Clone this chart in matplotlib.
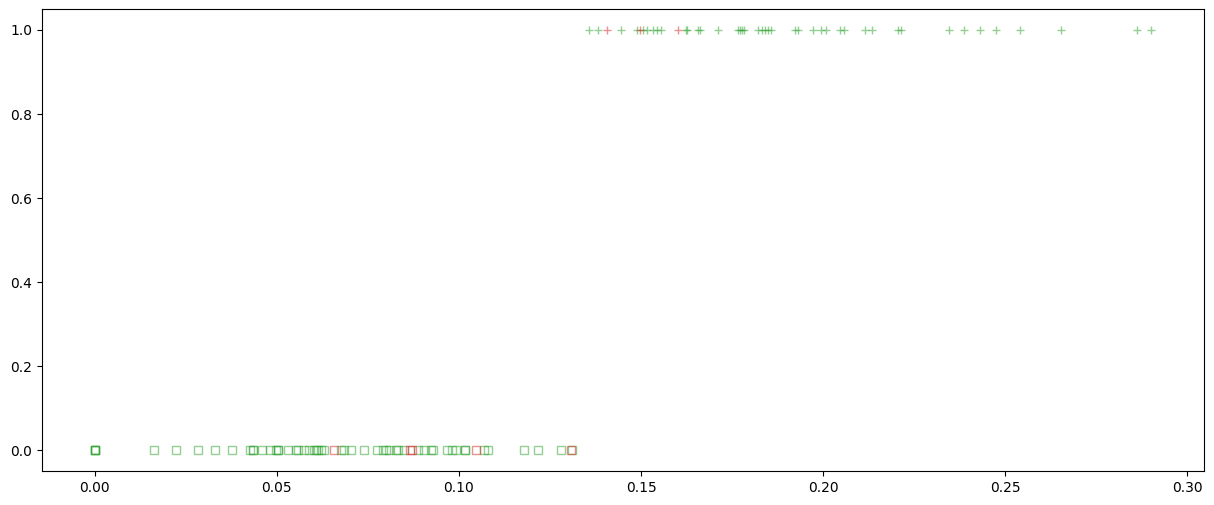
import numpy as np
import matplotlib
matplotlib.use("Agg")
import matplotlib.pyplot as plt

# --------------------------
# Data
# --------------------------
# class 1 (plus markers at y=1)
pos_green = [0.1357, 0.1382, 0.1445, 0.1489, 0.1505, 0.1516, 0.1533, 0.1544,
             0.1555, 0.1624, 0.1626, 0.1657, 0.1662, 0.1712, 0.1766, 0.1772,
             0.1777, 0.1783, 0.1821, 0.1832, 0.1841, 0.1849, 0.1857, 0.1923,
             0.1931, 0.1973, 0.1995, 0.2008, 0.2047, 0.2058, 0.2115, 0.2135,
             0.2206, 0.2214, 0.2346, 0.2387, 0.2431, 0.2475, 0.2541, 0.2654,
             0.2863, 0.2901]
pos_red = [0.1407, 0.1497, 0.1602]

# class 0 (square markers at y=0)
neg_green = [0.0, 0.0, 0.0, 0.0, 0.0162, 0.0223, 0.0283, 0.0330, 0.0376, 0.0426,
             0.0434, 0.0434, 0.0459, 0.0481, 0.0497, 0.0503, 0.0503, 0.0530,
             0.0552, 0.0558, 0.0574, 0.0588, 0.0602, 0.0607, 0.0613, 0.0621,
             0.0629, 0.0676, 0.0684, 0.0703, 0.0739, 0.0775, 0.0791, 0.0799,
             0.0808, 0.0827, 0.0832, 0.0849, 0.0887, 0.0904, 0.0923, 0.0929,
             0.0967, 0.0981, 0.0992, 0.1016, 0.1016, 0.1069, 0.1080, 0.1179,
             0.1217, 0.1280, 0.1310]
neg_red = [0.0657, 0.0865, 0.0871, 0.1047, 0.1308]

# --------------------------
# Plot
# --------------------------
fig = plt.figure(figsize=(12.14, 5.05), dpi=100)
ax = fig.add_subplot(111)
fig.subplots_adjust(left=42/1214, right=1204/1214, top=1-9/505, bottom=1-471/505)

ax.plot(pos_green, np.ones(len(pos_green)), '+', color='tab:green', alpha=0.5)
ax.plot(pos_red, np.ones(len(pos_red)), '+', color='tab:red', alpha=0.5)
ax.plot(neg_green, np.zeros(len(neg_green)), 's', color='tab:green', mfc='none', alpha=0.5)
ax.plot(neg_red, np.zeros(len(neg_red)), 's', color='tab:red', mfc='none', alpha=0.5)

fig.savefig("out.png", dpi=100)
